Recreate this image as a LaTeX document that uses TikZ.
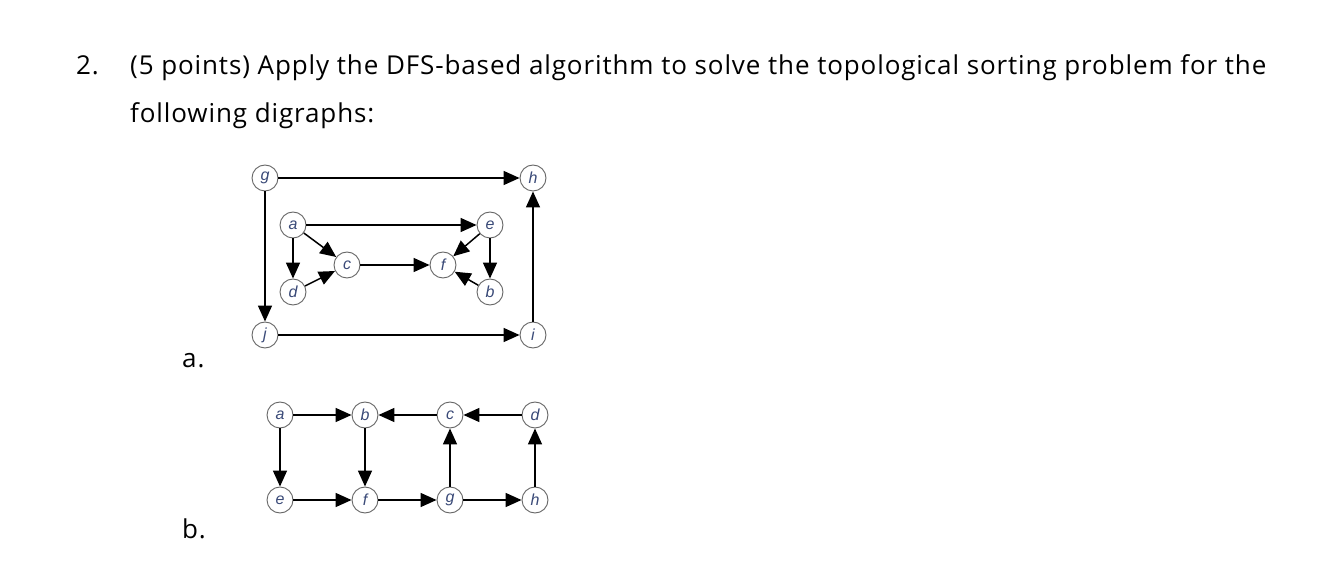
\documentclass[tikz,border=0pt]{standalone}
\usepackage{fontspec}
\setmainfont{Open Sans}[LetterSpace=3.4]
\newfontfamily\labelfont{Liberation Sans}
\usetikzlibrary{arrows.meta}

\begin{document}
\begin{tikzpicture}[
    x=1pt, y=-1pt,
    vertex/.style={
        circle,
        draw=black!60,
        line width=0.9pt,
        fill=white,
        minimum size=26pt,
        inner sep=0pt,
        text=labelblue,
        font=\labelfont\itshape\fontsize{16}{16}\selectfont
    },
    line/.style={draw, line width=1.5pt, -{Triangle[length=16pt,width=14pt]}},
    question/.style={anchor=base west, inner sep=0pt, font=\fontsize{26}{30}\selectfont}
]
    \definecolor{labelblue}{HTML}{3A4A78}
    \useasboundingbox (0,0) rectangle (1342,561);

    % Question text
    \node[question] (num) at (76,75) {2.};
    \node[question] (line1) at (130,75) {(5 points) Apply the DFS-based algorithm to solve the topological sorting problem for the};
    \node[question] (line2) at (130,123) {following digraphs:};
    \node[question] (parta) at (182,367) {a.};
    \node[question] (partb) at (182,538) {b.};

    % Digraph a
    \node[vertex] (a-g) at (265,178) {g};
    \node[vertex] (a-h) at (533,178) {h};
    \node[vertex] (a-a) at (293,225) {a};
    \node[vertex] (a-e) at (490,225) {e};
    \node[vertex] (a-c) at (347,265) {c};
    \node[vertex] (a-f) at (443,265) {f};
    \node[vertex] (a-d) at (293,292) {d};
    \node[vertex] (a-b) at (490,292) {b};
    \node[vertex] (a-j) at (265,335) {j};
    \node[vertex] (a-i) at (533,335) {i};

    % Digraph b
    \node[vertex] (b-a) at (280,415) {a};
    \node[vertex] (b-b) at (365,415) {b};
    \node[vertex] (b-c) at (450,415) {c};
    \node[vertex] (b-d) at (535,415) {d};
    \node[vertex] (b-e) at (280,500) {e};
    \node[vertex] (b-f) at (365,500) {f};
    \node[vertex] (b-g) at (450,500) {g};
    \node[vertex] (b-h) at (535,500) {h};

    % Connections a
    \draw[line] (a-g) -- (a-h);
    \draw[line] (a-g) -- (a-j);
    \draw[line] (a-j) -- (a-i);
    \draw[line] (a-i) -- (a-h);
    \draw[line] (a-a) -- (a-e);
    \draw[line] (a-a) -- (a-c);
    \draw[line] (a-a) -- (a-d);
    \draw[line] (a-d) -- (a-c);
    \draw[line] (a-c) -- (a-f);
    \draw[line] (a-e) -- (a-f);
    \draw[line] (a-e) -- (a-b);
    \draw[line] (a-b) -- (a-f);

    % Connections b
    \draw[line] (b-a) -- (b-b);
    \draw[line] (b-a) -- (b-e);
    \draw[line] (b-c) -- (b-b);
    \draw[line] (b-d) -- (b-c);
    \draw[line] (b-b) -- (b-f);
    \draw[line] (b-e) -- (b-f);
    \draw[line] (b-f) -- (b-g);
    \draw[line] (b-g) -- (b-c);
    \draw[line] (b-g) -- (b-h);
    \draw[line] (b-h) -- (b-d);
\end{tikzpicture}
\end{document}
